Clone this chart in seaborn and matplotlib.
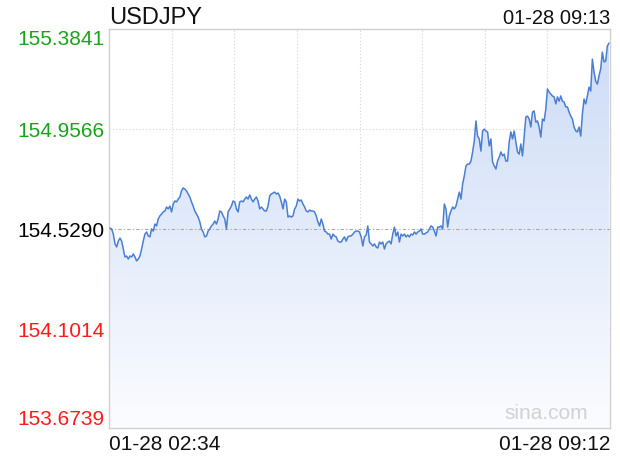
import numpy as np
import pandas as pd
import seaborn as sns
import matplotlib
matplotlib.use("Agg")
from matplotlib import pyplot as plt
from matplotlib.colors import LinearSegmentedColormap

# USDJPY intraday prices, 01-28 02:34 -> 09:12
prices_early = [
    154.531, 154.527, 154.505, 154.463, 154.450, 154.475, 154.488, 154.475, 154.441, 154.407,
    154.411, 154.398, 154.411, 154.407, 154.420, 154.407, 154.390, 154.398, 154.411, 154.441,
    154.475, 154.505, 154.514, 154.497, 154.493, 154.527, 154.518, 154.548, 154.540, 154.570,
    154.583, 154.591, 154.600, 154.604, 154.621, 154.613, 154.625, 154.600, 154.634, 154.647,
    154.643, 154.655, 154.664, 154.690, 154.703, 154.698, 154.690, 154.677, 154.664, 154.643,
    154.625, 154.604, 154.591, 154.578, 154.557, 154.527, 154.514, 154.493, 154.497, 154.518,
    154.527, 154.540, 154.548, 154.561, 154.548, 154.570, 154.604, 154.600, 154.583, 154.570,
    154.527, 154.600,
]
prices_mid = [
    154.613, 154.625, 154.647, 154.643, 154.613, 154.600, 154.643, 154.647, 154.643, 154.655,
    154.664, 154.655, 154.673, 154.655, 154.643, 154.655, 154.664, 154.647, 154.613, 154.621,
    154.613, 154.604, 154.604, 154.625, 154.668, 154.677, 154.681, 154.685, 154.677, 154.681,
    154.668, 154.643, 154.613, 154.655, 154.643, 154.578, 154.583, 154.578, 154.583, 154.613,
    154.625, 154.655, 154.647, 154.651, 154.634, 154.621, 154.604, 154.600, 154.608, 154.604,
    154.604, 154.600, 154.583, 154.557, 154.540, 154.570, 154.548, 154.518, 154.514, 154.505,
    154.505, 154.484, 154.505, 154.497, 154.493, 154.475, 154.471, 154.471, 154.484, 154.493,
    154.475, 154.493, 154.497, 154.497, 154.505, 154.514, 154.518, 154.518, 154.514, 154.493,
]
prices_late = [
    154.454, 154.493, 154.501, 154.540, 154.471, 154.463, 154.454, 154.463, 154.450, 154.445,
    154.471, 154.463, 154.471, 154.441, 154.463, 154.471, 154.475, 154.463, 154.505, 154.535,
    154.497, 154.514, 154.471, 154.505, 154.497, 154.505, 154.493, 154.501, 154.493, 154.505,
    154.501, 154.514, 154.505, 154.514, 154.518, 154.527, 154.505, 154.505, 154.510, 154.514,
    154.527, 154.540, 154.535, 154.518, 154.497, 154.535, 154.535, 154.540, 154.527, 154.634,
    154.613, 154.535, 154.583, 154.604, 154.621, 154.613, 154.625, 154.655, 154.685, 154.655,
    154.720, 154.754, 154.797, 154.805, 154.805, 154.818, 154.857, 154.904, 154.990, 154.925,
    154.913, 154.861, 154.947, 154.955, 154.947, 154.943, 154.883,
]
prices_end = [
    154.913, 154.814, 154.797, 154.784, 154.818, 154.835, 154.857, 154.840, 154.848, 154.818,
    154.818, 154.900, 154.943, 154.913, 154.947, 154.900, 154.857, 154.848, 154.891, 154.840,
    154.925, 155.007, 155.011, 154.998, 154.964, 155.028, 155.033, 154.985, 154.990, 154.964,
    154.921, 154.998, 154.990, 155.041, 155.127, 155.114, 155.105, 155.097, 155.093, 155.063,
    155.093, 155.075, 155.097, 155.075, 155.071, 155.050, 155.050, 155.028, 155.011, 154.998,
    154.964, 154.947, 154.943, 154.964, 154.925, 155.020, 155.084, 155.063, 155.097, 155.135,
    155.118, 155.255, 155.200, 155.161, 155.148, 155.183, 155.213, 155.285, 155.243, 155.247,
    155.311, 155.324,
]

y_levels = [153.6739, 154.1014, 154.5290, 154.9566, 155.3841]
y_labels = ["153.6739", "154.1014", "154.5290", "154.9566", "155.3841"]
y_colors = ["#ff1a1a", "#ff1a1a", "#000000", "#1aa31a", "#1aa31a"]
prev_close = 154.5290

symbol = "USDJPY"
last_time = "01-28 09:13"
start_label = "01-28 02:34"
end_label = "01-28 09:12"

prices = prices_early + prices_mid + prices_late + prices_end
df = pd.DataFrame({"idx": np.arange(len(prices)), "price": prices})

sns.set_style("white")
plt.rcParams["font.family"] = ["Liberation Sans", "DejaVu Sans"]

f = plt.figure(figsize=(6.2, 4.6), dpi=100)
ax = f.add_axes([109 / 620, 1 - 429 / 460, 501 / 620, 399 / 460])

x0, x1 = -0.6, len(prices) - 1 + 0.6
ax.set_xlim(x0, x1)
ax.set_ylim(y_levels[0], y_levels[-1])

# gradient fill under the line
poly = ax.fill_between(df.idx, df.price, y_levels[0], color="none", lw=0)
cmap = LinearSegmentedColormap.from_list("fill", ["#fbfcff", "#cddcf6"])
grad = np.linspace(0, 1, 256).reshape(-1, 1)
img = ax.imshow(grad, cmap=cmap, aspect="auto", origin="lower",
                extent=[x0, x1, y_levels[0], max(prices)], zorder=1)
path = poly.get_paths()[0]
img.set_clip_path(path, transform=ax.transData)

# grid
for i in range(1, 8):
    ax.axvline(x0 + i * (x1 - x0) / 8, color="#d4d4d4", lw=0.8, ls=(0, (1, 2)), zorder=0)
for lv in (y_levels[1], y_levels[3]):
    ax.axhline(lv, color="#d4d4d4", lw=0.8, ls=(0, (1, 2)), zorder=0)
ax.axhline(prev_close, color="#a8a8a8", lw=0.8, ls=(0, (3, 2, 1, 2)), zorder=3)

sns.lineplot(x="idx", y="price", data=df, ax=ax, color="#4a7fd4",
             lw=1.1, estimator=None, zorder=4)

for s in ax.spines.values():
    s.set_color("#d0d0d0")
    s.set_linewidth(1.0)

ax.set_xticks([])
ax.set_yticks(y_levels)
ax.set_yticklabels(y_labels, fontsize=15)
ax.tick_params(axis="y", length=0, pad=3)
for lab, col in zip(ax.get_yticklabels(), y_colors):
    lab.set_color(col)
ax.get_yticklabels()[0].set_va("bottom")
ax.get_yticklabels()[-1].set_va("top")
ax.set_xlabel("")
ax.set_ylabel("")

ax.text(0.0, 1.015, symbol, transform=ax.transAxes, ha="left", va="baseline",
        fontsize=17, color="#111111")
ax.text(1.0, 1.015, last_time, transform=ax.transAxes, ha="right", va="baseline",
        fontsize=14.5, color="#111111")
ax.text(0.0, -0.015, start_label, transform=ax.transAxes, ha="left", va="top",
        fontsize=15, color="#111111")
ax.text(1.0, -0.015, end_label, transform=ax.transAxes, ha="right", va="top",
        fontsize=15, color="#111111")
ax.text(0.873, 0.04, "sina.com", transform=ax.transAxes, ha="center", va="center",
        fontsize=15, color="#d2d2d2", zorder=5)

f.savefig("out.png", dpi=100)
